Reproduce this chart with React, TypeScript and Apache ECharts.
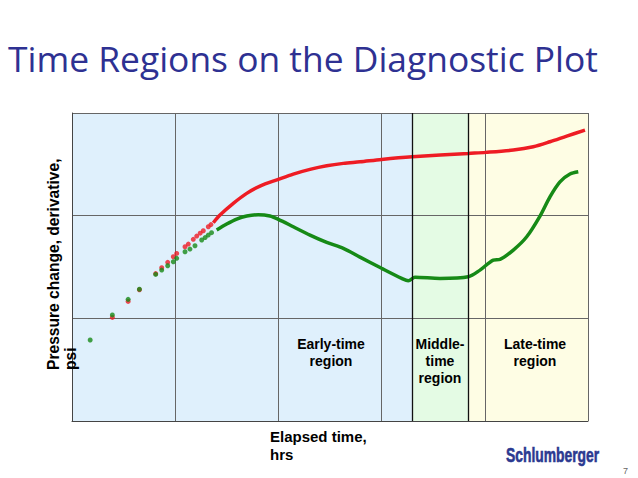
import React, { useEffect, useRef } from "react";
import * as echarts from "echarts";

// Elapsed time (hrs) / pressure values (psi)
const pressureEarlyPts: number[][] = [
  [0.00246, 10.2], [0.0035, 14.6], [0.0045, 19.0], [0.00647, 27.3], [0.0074, 31.1],
  [0.00846, 35.1], [0.00959, 39.8], [0.01034, 42.9], [0.01245, 49.8], [0.0134, 52.9],
  [0.01497, 58.8], [0.01616, 63.3], [0.01745, 67.5], [0.01872, 71.3], [0.02093, 78.0],
  [0.0222, 81.8],
];
const pressureCurve: number[][] = [
  [0.0234, 85.3], [0.02717, 101.3], [0.03656, 131.8], [0.04929, 164.9], [0.06633, 194.2],
  [0.0998, 225.7], [0.1394, 254.2], [0.2024, 282.4], [0.2938, 306.1], [0.4256, 323.1],
  [0.6174, 334.8], [1.0, 353.3], [1.98, 374.6], [6.92, 404.3], [10.2, 413.5],
  [18.9, 435.4], [29.5, 468.8], [42.8, 524.3], [62.2, 595.7], [93.5, 681.6],
];
const derivativeEarlyPts: number[][] = [
  [0.0015, 6.15], [0.00246, 10.8], [0.0035, 15.3], [0.0045, 19.2], [0.00647, 26.8],
  [0.0074, 29.5], [0.00846, 32.5], [0.00959, 35.6], [0.01034, 38.4], [0.01245, 44.5],
  [0.0139, 47.3], [0.01555, 50.9], [0.01806, 57.9], [0.0195, 61.2], [0.0209, 64.7],
  [0.0225, 68.3],
];
const derivativeCurve: number[][] = [
  [0.02524, 72.4], [0.03155, 82.8], [0.03944, 92.7], [0.04929, 99.1], [0.06385, 102.0],
  [0.08292, 99.1], [0.0998, 92.0], [0.1394, 78.0], [0.2024, 64.7], [0.2938, 54.95],
  [0.4256, 48.0], [0.6174, 39.5], [1.0, 30.7], [1.566, 24.5], [1.814, 23.2],
  [2.106, 25.1], [3.68, 24.5], [6.92, 25.4], [8.98, 29.5], [12.09, 36.9],
  [14.04, 37.5], [18.89, 46.2], [25.47, 62.3], [34.26, 99.1], [42.8, 152.8],
  [53.5, 213.8], [66.9, 254.2], [80.5, 267.6],
];
// Time-region boundaries (hrs)
const xRange = [0.001, 100];
const yRange = [1, 1000];
const regionBounds = [0.001, 2.0, 6.9, 100];
const regionNames = ["Early-time\nregion", "Middle-\ntime\nregion", "Late-time\nregion"];
const regionColors = ["#dff0fc", "#e4fbe4", "#fefde4"];

const RED = "#ee1c24";
const GREEN = "#168a16";
const LABEL_FONT = '"Liberation Sans", Arial, sans-serif';

function label(text: string, x: number, y: number, size: number, lh: number, align: string) {
  return {
    type: "text",
    x,
    y,
    z: 100,
    style: {
      text,
      font: "bold " + size + "px " + LABEL_FONT,
      fill: "#000",
      align,
      verticalAlign: "top",
      textAlign: align,
      textVerticalAlign: "top",
      lineHeight: lh,
    },
  };
}

export default function App() {
  const ref = useRef<HTMLDivElement>(null);
  useEffect(() => {
    if (!ref.current) return;
    const chart = echarts.init(ref.current, null, { renderer: "svg" });
    const bands = regionColors.map((c, i) => [
      { xAxis: regionBounds[i], itemStyle: { color: c } },
      { xAxis: regionBounds[i + 1] },
    ]);
    const axisCommon = {
      type: "log" as const,
      logBase: 10,
      z: 1,
      axisLabel: { show: false },
      axisTick: { show: false },
      minorTick: { show: false },
      axisLine: { show: true, lineStyle: { color: "#444", width: 1 } },
      splitLine: { show: true, lineStyle: { color: "#666", width: 1 } },
    };
    chart.setOption({
      animation: false,
      grid: { left: 72, top: 113, right: 50, bottom: 57, show: false },
      xAxis: { ...axisCommon, min: xRange[0], max: xRange[1], splitNumber: 5 },
      yAxis: { ...axisCommon, min: yRange[0], max: yRange[1], splitNumber: 3 },
      series: [
        {
          type: "line",
          name: "Pressure change",
          data: pressureCurve,
          smooth: 0.3,
          showSymbol: false,
          symbol: "none",
          lineStyle: { color: RED, width: 3.5 },
          z: 3,
          markArea: {
            silent: true,
            z: 0,
            itemStyle: { opacity: 1 },
            data: bands,
          },
          markLine: {
            silent: true,
            symbol: "none",
            label: { show: false },
            lineStyle: { color: "#111", width: 1.3, type: "solid" },
            data: [{ xAxis: regionBounds[1] }, { xAxis: regionBounds[2] }],
          },
        },
        {
          type: "line",
          name: "Derivative",
          data: derivativeCurve,
          smooth: 0.3,
          showSymbol: false,
          symbol: "none",
          lineStyle: { color: GREEN, width: 3.5 },
          z: 3,
        },
        {
          type: "scatter",
          data: pressureEarlyPts,
          symbolSize: 5,
          itemStyle: { color: RED },
          z: 3,
        },
        {
          type: "scatter",
          data: derivativeEarlyPts,
          symbolSize: 5,
          itemStyle: { color: GREEN },
          z: 4,
        },
      ],
      graphic: [
        {
          type: "text",
          left: 8,
          top: 40,
          z: 100,
          style: {
            text: "Time Regions on the Diagnostic Plot",
            font: '35.4px "Open Sans", "Noto Sans", sans-serif',
            fill: "#2e3192",
          },
        },
        {
          type: "text",
          x: 45,
          y: 370,
          z: 100,
          rotation: Math.PI / 2,
          style: {
            text: "Pressure change, derivative,\npsi",
            font: "bold 15.6px " + LABEL_FONT,
            fill: "#000",
            align: "left",
            verticalAlign: "top",
            textAlign: "left",
            textVerticalAlign: "top",
            lineHeight: 17,
          },
        },
        label("Elapsed time,\nhrs", 270, 427, 15, 18, "left"),
        label(regionNames[0], 331, 335, 14, 17, "center"),
        label(regionNames[1], 440, 335, 14, 17, "center"),
        label(regionNames[2], 535, 335, 14, 17, "center"),
        {
          type: "text",
          x: 506,
          y: 444,
          z: 100,
          scaleX: 0.66,
          style: {
            text: "Schlumberger",
            font: "bold 21px " + LABEL_FONT,
            fill: "#2b3990",
            stroke: "#2b3990",
            lineWidth: 0.6,
            align: "left",
            verticalAlign: "top",
            textAlign: "left",
            textVerticalAlign: "top",
          },
        },
        {
          type: "text",
          x: 623,
          y: 466,
          z: 100,
          style: {
            text: "7",
            font: "9px " + LABEL_FONT,
            fill: "#666",
            align: "left",
            verticalAlign: "top",
            textAlign: "left",
            textVerticalAlign: "top",
          },
        },
      ],
    });
    return () => chart.dispose();
  }, []);
  return (
    <div
      ref={ref}
      style={{ position: "fixed", left: 0, top: 0, width: 638, height: 478, background: "#fff" }}
    />
  );
}
